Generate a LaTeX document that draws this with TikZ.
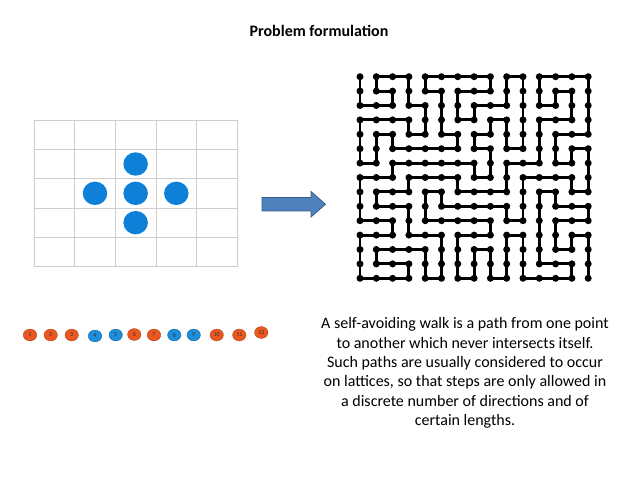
\documentclass[tikz,border=0pt]{standalone}
\usepackage{fontspec}
\setmainfont{Carlito}
\usetikzlibrary{positioning,shapes.geometric}
\definecolor{MonoBlue}{RGB}{14,128,216}
\definecolor{BallOrange}{RGB}{234,88,32}
\definecolor{BallBlue}{RGB}{30,142,218}
\definecolor{ArrowBlue}{RGB}{79,129,189}
\definecolor{ArrowEdge}{RGB}{56,93,138}
\definecolor{GridGray}{RGB}{206,206,206}
\tikzset{
  site/.style={circle,fill=black,inner sep=0pt,minimum size=7pt},
  walkline/.style={line width=2.9pt,black},
  monomer/.style={ellipse,fill=MonoBlue,inner sep=0pt,minimum width=24.5pt,
    minimum height=23.4pt},
  ball/.style={ellipse,draw=#1!75!black,fill=#1,inner sep=0pt,minimum width=13.4pt,
    minimum height=11.8pt,font=\fontsize{6}{7}\selectfont,text=black!80},
  gridline/.style={GridGray,line width=0.8pt},
  blockarrow/.style={fill=ArrowBlue,draw=ArrowEdge,line width=0.8pt}
}
% the walk, site by site (column/row), starting after 0/0
\def\walk{0/1,0/2,1/2,2/2,2/1,1/1,1/0,2/0,3/0,3/1,3/2,4/2,4/3,4/4,3/4,3/3,2/3,1/3,0/3,%
0/4,0/5,0/6,1/6,1/5,1/4,2/4,2/5,3/5,4/5,5/5,6/5,6/4,5/4,5/3,5/2,5/1,4/1,4/0,5/0,%
6/0,7/0,8/0,8/1,7/1,6/1,6/2,6/3,7/3,7/2,8/2,9/2,9/1,9/0,10/0,10/1,10/2,10/3,10/4,10/5,%
9/5,9/4,9/3,8/3,8/4,7/4,7/5,8/5,8/6,8/7,7/7,7/6,6/6,5/6,4/6,3/6,2/6,2/7,1/7,0/7,%
0/8,0/9,0/10,1/10,2/10,2/11,1/11,0/11,0/12,0/13,0/14,1/14,2/14,3/14,3/13,2/13,1/13,1/12,2/12,3/12,%
4/12,4/13,4/14,5/14,5/13,5/12,5/11,4/11,3/11,3/10,3/9,2/9,1/9,1/8,2/8,3/8,3/7,4/7,5/7,6/7,%
6/8,7/8,8/8,9/8,9/7,9/6,10/6,11/6,11/5,11/4,11/3,12/3,13/3,13/2,13/1,12/1,12/2,11/2,11/1,11/0,%
12/0,13/0,14/0,14/1,14/2,14/3,14/4,13/4,12/4,12/5,12/6,13/6,13/5,14/5,14/6,14/7,14/8,13/8,13/7,12/7,%
11/7,10/7,10/8,10/9,10/10,9/10,9/9,8/9,7/9,6/9,5/9,5/8,4/8,4/9,4/10,5/10,6/10,7/10,8/10,8/11,%
7/11,6/11,6/12,6/13,6/14,7/14,7/13,7/12,8/12,8/13,8/14,9/14,9/13,9/12,9/11,10/11,10/12,10/13,10/14,11/14,%
12/14,13/14,13/13,12/13,11/13,11/12,11/11,11/10,11/9,11/8,12/8,12/9,13/9,14/9,14/10,13/10,12/10,12/11,12/12,13/12,%
13/11,14/11,14/12,14/13,14/14}

\begin{document}
\begin{tikzpicture}[x=1pt,y=-1pt]
  \useasboundingbox (0,0) rectangle (638,478);
  \node[font=\bfseries\fontsize{16}{19}\selectfont] (title) at (319,31) {Problem formulation};

  % square lattice with five monomers
  \foreach \i in {0,...,5} {
    \draw[gridline] (34+40.66*\i,120) -- (34+40.66*\i,266.7);
    \draw[gridline] (34,120+29.33*\i) -- (237.3,120+29.33*\i);
  }
  \foreach \cx/\cy/\nm in {2/1/up,1/2/left,2/2/mid,3/2/right,2/3/down}
    \node[monomer] (mono-\nm) at (54.33+40.66*\cx,134.67+29.33*\cy) {};

  \draw[blockarrow] (262,197.5) -- (311,197.5) -- (311,191.5) -- (325.5,204.3)
    -- (311,217) -- (311,211) -- (262,211) -- cycle;

  % self-avoiding walk on a 15x15 lattice
  \foreach \c in {0,...,14}
    \foreach \r in {0,...,14}
      \node[site] (m-\c-\r) at (360+16.3*\c,76.7+14.4*\r) {};
  \foreach \c/\r [remember=\c as \pc (initially 0),remember=\r as \pr (initially 0)] in \walk
    \draw[walkline] (m-\pc-\pr.center) -- (m-\c-\r.center);

  % chain of numbered beads
  \foreach \n/\bx/\by/\col in {1/30/335/BallOrange,2/50.7/335/BallOrange,3/71.7/335/BallOrange,
      4/95/336/BallBlue,5/115.7/335/BallBlue,6/134.3/334.5/BallOrange,7/154/335/BallOrange,
      8/174.3/335/BallBlue,9/193.7/335/BallBlue,10/216.7/335/BallOrange,
      11/239.3/335/BallOrange,12/261.3/332.5/BallOrange}
    \node[ball=\col] (b\n) at (\bx,\by) {\n};

  \node[align=center,font=\fontsize{16}{19.3}\selectfont] (desc) at (465,373)
    {A self-avoiding walk is a path from one point\\
     to another which never intersects itself.\\
     Such paths are usually considered to occur\\
     on lattices, so that steps are only allowed in\\
     a discrete number of directions and of\\
     certain lengths.};
\end{tikzpicture}
\end{document}
